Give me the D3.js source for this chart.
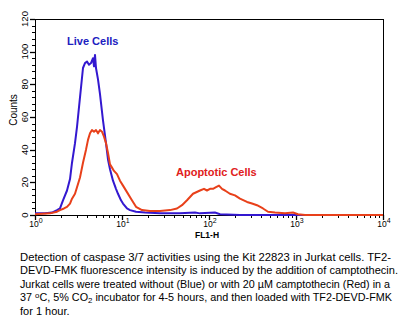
<!DOCTYPE html>
<html>
<head>
<meta charset="utf-8">
<script src="https://cdn.jsdelivr.net/npm/d3@7"></script>
<style>
  html, body { margin: 0; padding: 0; background: #fff; }
  svg { display: block; font-family: "Liberation Sans", Arial, sans-serif; }
</style>
</head>
<body>
<svg id="chart" width="406" height="327"></svg>
<script>
// FL1-H intensity (log scale) and event counts for each population
const liveFL1 = [1, 1.303, 1.568, 1.79, 1.938, 2.098, 2.333, 2.526, 2.663, 2.883, 3.04, 3.29, 3.562, 3.755, 3.96, 4.175, 4.402, 4.642, 4.766, 4.894, 5.024, 5.298, 5.586, 6.047, 6.549, 6.904, 7.279, 7.88, 8.531, 8.995, 9.74, 10.27, 11.41, 12.36, 14.49, 18.38, 27.35, 46.4, 69.0, 78.8, 117, 134, 227, 10000];
const liveCounts = [1, 1, 1.5, 3, 4, 9, 15, 22, 32, 44, 54, 72, 90, 93, 94, 92, 93, 96, 91, 98, 90, 83, 74, 58, 44, 34, 28, 21, 16, 13, 9, 7, 4, 3, 2, 1.5, 1, 1, 1.5, 1, 1.5, 0.5, 0, 0];

const apopFL1 = [1, 1.487, 1.79, 1.938, 2.154, 2.333, 2.526, 2.663, 2.883, 3.04, 3.29, 3.562, 3.857, 4.067, 4.287, 4.521, 4.766, 5.024, 5.298, 5.586, 5.889, 6.21, 6.549, 6.904, 7.279, 7.675, 8.091, 8.76, 9.48, 10.27, 11.41, 12.69, 14.49, 16.98, 20.98, 27.35, 35.62, 42.87, 48.94, 55.86, 65.49, 78.8, 87.6, 94.8, 102.7, 111.2, 120.4, 130.3, 141.1, 152.7, 174.0, 199.0, 227, 273.5, 312.1, 356.2, 417.5, 476.6, 573.6, 747.3, 924, 1054, 1269, 10000];
const apopCounts = [0.5, 1, 2, 3, 4, 5, 7, 10, 13, 17, 23, 32, 40, 46, 50, 52, 51, 52, 50, 52, 51, 48, 44, 38, 31, 29, 27, 25, 21, 18, 14, 10, 5, 3, 2.5, 2.5, 3, 4, 6, 9, 13, 15, 16, 15, 16, 16, 17, 18, 16, 15, 13, 12, 10, 8, 7, 6, 4, 2, 1.5, 1, 1.5, 0.5, 0, 0];

const xTickValues = [1, 10, 100, 1000, 10000];
const xTickExponents = ["0", "1", "2", "3", "4"];
const yTickValues = [0, 20, 40, 60, 80, 100, 120];

const captionLines = [
  "Detection of caspase 3/7 activities  using the Kit 22823 in Jurkat cells. TF2-",
  "DEVD-FMK fluorescence intensity is induced by the addition of camptothecin.",
  "Jurkat cells were treated without (Blue) or with 20 µM camptothecin (Red) in a",
  null,
  "for 1 hour."
];

const svg = d3.select("#chart");
const plotL = 35, plotR = 383, plotT = 19, plotB = 215;

const x = d3.scaleLog().domain([1, 10000]).range([plotL, plotR]);
const y = d3.scaleLinear().domain([0, 120]).range([plotB, plotT]);

// frame
svg.append("rect")
  .attr("x", plotL + 0.5).attr("y", plotT + 0.5)
  .attr("width", plotR - plotL).attr("height", plotB - plotT)
  .attr("fill", "none").attr("stroke", "#000").attr("stroke-width", 1);

// y axis: majors every 20, minors every 4
const yMinor = d3.range(0, 121, 4).filter(v => v % 20 !== 0);
svg.append("g").selectAll("line").data(yMinor).join("line")
  .attr("x1", plotL - 3).attr("x2", plotL)
  .attr("y1", d => Math.round(y(d)) + 0.5).attr("y2", d => Math.round(y(d)) + 0.5)
  .attr("stroke", "#000");
svg.append("g").selectAll("line").data(yTickValues).join("line")
  .attr("x1", plotL - 5).attr("x2", plotL)
  .attr("y1", d => Math.round(y(d)) + 0.5).attr("y2", d => Math.round(y(d)) + 0.5)
  .attr("stroke", "#000").attr("stroke-width", 1.3);
svg.append("g").selectAll("text").data(yTickValues).join("text")
  .attr("transform", d => `translate(28,${y(d)}) rotate(-90)`)
  .attr("text-anchor", "middle")
  .attr("font-size", 9.5)
  .attr("fill", "#000")
  .text(d => d);

// x axis: log decades with 2..9 minors
const xMinor = [];
for (let dec = 1; dec < 10000; dec *= 10) for (let k = 2; k <= 9; k++) xMinor.push(dec * k);
svg.append("g").selectAll("line").data(xMinor).join("line")
  .attr("x1", d => Math.round(x(d)) + 0.5).attr("x2", d => Math.round(x(d)) + 0.5)
  .attr("y1", plotB).attr("y2", plotB + 3)
  .attr("stroke", "#000");
svg.append("g").selectAll("line").data(xTickValues).join("line")
  .attr("x1", d => Math.round(x(d)) + 0.5).attr("x2", d => Math.round(x(d)) + 0.5)
  .attr("y1", plotB).attr("y2", plotB + 5)
  .attr("stroke", "#000").attr("stroke-width", 1.3);
const xl = svg.append("g").selectAll("text").data(xTickValues).join("text")
  .attr("x", d => x(d) + 1).attr("y", 227)
  .attr("text-anchor", "middle")
  .attr("font-size", 8.5)
  .attr("fill", "#000");
xl.append("tspan").text("10");
xl.append("tspan").attr("dy", -4).attr("font-size", 7).text((d, i) => xTickExponents[i]);

// axis titles
svg.append("text")
  .attr("x", 207).attr("y", 238)
  .attr("text-anchor", "middle")
  .attr("font-size", 8.5).attr("font-weight", "bold")
  .text("FL1-H");
svg.append("text")
  .attr("transform", "translate(17,110) rotate(-90)")
  .attr("text-anchor", "middle")
  .attr("font-size", 10)
  .text("Counts");

// histograms
const line = (xs) => d3.line()
  .x((d, i) => x(xs[i]))
  .y(d => y(d))
  .curve(d3.curveLinear);

svg.append("path")
  .datum(liveCounts)
  .attr("d", line(liveFL1))
  .attr("fill", "none")
  .attr("stroke", "#3318d0")
  .attr("stroke-width", 2)
  .attr("stroke-linejoin", "round");

svg.append("path")
  .datum(apopCounts)
  .attr("d", line(apopFL1))
  .attr("fill", "none")
  .attr("stroke", "#e8401a")
  .attr("stroke-width", 2)
  .attr("stroke-linejoin", "round");

// population labels
svg.append("text")
  .attr("x", 67).attr("y", 45)
  .attr("font-size", 11).attr("font-weight", "bold")
  .attr("fill", "#2020c0")
  .text("Live Cells");
svg.append("text")
  .attr("x", 176).attr("y", 176)
  .attr("font-size", 11).attr("font-weight", "bold")
  .attr("fill", "#e02020")
  .text("Apoptotic Cells");

// caption
const capWidths = [371, 378, 370, 372];
const cap = svg.append("g").attr("font-size", 11).attr("fill", "#000");
captionLines.forEach((t, i) => {
  const tx = cap.append("text")
    .attr("x", 20).attr("y", 261 + i * 13.4);
  if (i < 4) tx.attr("textLength", capWidths[i]).attr("lengthAdjust", "spacingAndGlyphs");
  if (t !== null) {
    tx.text(t);
  } else {
    tx.append("tspan").text("37 ");
    tx.append("tspan").attr("font-size", 8).attr("dy", -3).text("o");
    tx.append("tspan").attr("dy", 3).text("C, 5% CO");
    tx.append("tspan").attr("font-size", 8).attr("dy", 2).text("2");
    tx.append("tspan").attr("dy", -2).text(" incubator for 4-5 hours, and then loaded with TF2-DEVD-FMK");
  }
});
</script>
</body>
</html>
